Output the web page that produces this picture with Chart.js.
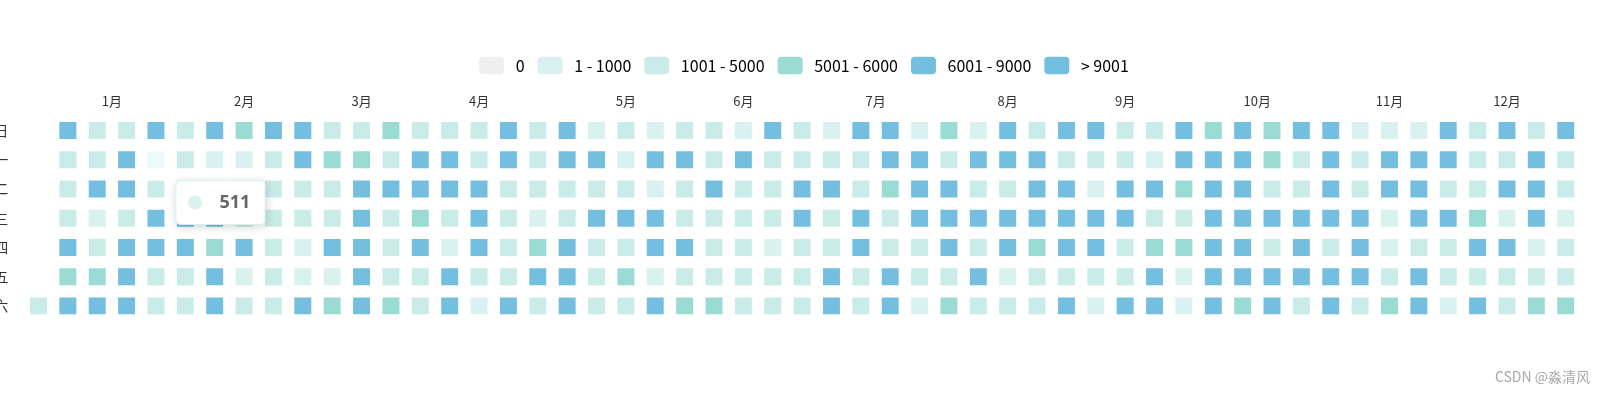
<!DOCTYPE html>
<html lang="zh-CN">
<head>
<meta charset="UTF-8">
<title>2022 日历热力图</title>
<script src="https://cdn.jsdelivr.net/npm/chart.js@4.4.1/dist/chart.umd.min.js"></script>
<style>
    html, body { margin: 0; padding: 0; background: #fff; overflow: hidden; }
    #wrap { position: relative; width: 1608px; height: 393px; }
    #watermark {
        position: absolute;
        right: 18px;
        bottom: 7px;
        font: 14px 'Noto Sans CJK SC', 'Noto Sans', sans-serif;
        line-height: 20px;
        color: #a8a8a8;
    }
</style>
</head>
<body>
<div id="wrap">
    <canvas id="heatmap" width="1608" height="393"></canvas>
    <div id="watermark">CSDN @淼清风</div>
</div>
<script>
// Calendar year shown (1 Jan 2022 is a Saturday, weeks start on Sunday)
const YEAR = 2022;

const weekdayLabels = ['日', '一', '二', '三', '四', '五', '六'];
const monthLabels = ['1月', '2月', '3月', '4月', '5月', '6月', '7月', '8月', '9月', '10月', '11月', '12月'];

// visualMap pieces
const pieceLabels = ['0', '1 - 1000', '1001 - 5000', '5001 - 6000', '6001 - 9000', '> 9001'];
const pieceMin = [0, 1, 1001, 5001, 6001, 9001];
const pieceMax = [0, 1000, 5000, 6000, 9000, Infinity];

// One value per week column (53 columns), one array per weekday row
const sunValues = [null, 7420, 3150, 2860, 8130, 4210, 6890, 5430, 7710, 9260, 2380, 3940, 5720, 1870, 4430, 2690, 8550, 3320, 7040, 640, 4120, 880, 2570, 3610, 420, 8810, 1940, 760, 6620, 9480, 310, 5260, 570, 7350, 2210, 8960, 6480, 3770, 1560, 7890, 5610, 9120, 5380, 6770, 8240, 930, 450, 690, 7560, 2940, 9350, 1730, 6940];
const monValues = [null, 2740, 3580, 8420, 511, 1690, 820, 360, 4370, 7180, 5540, 5170, 2460, 9630, 6350, 3890, 7920, 1280, 8670, 6910, 740, 9040, 7460, 2130, 8180, 4650, 2990, 1420, 3360, 7630, 9210, 2050, 6560, 8390, 7270, 4080, 2820, 1350, 590, 8740, 6230, 9570, 5830, 3460, 7840, 2610, 6410, 8930, 7090, 1810, 4520, 9380, 3040];
const tueValues = [null, 3270, 6780, 8350, 2190, 3840, 670, 2520, 4160, 1760, 3490, 7540, 9170, 6830, 8460, 7320, 2370, 4710, 1530, 3060, 2280, 860, 3920, 8020, 1640, 4290, 7680, 9410, 2750, 5360, 6590, 8870, 3180, 1990, 7250, 9690, 480, 8110, 6960, 5490, 7770, 9030, 2420, 3710, 6280, 1460, 8560, 7390, 4430, 2080, 9290, 6670, 3550];
const wedValues = [null, 1920, 710, 3630, 8270, 6840, 7490, 2680, 4020, 1380, 3250, 9140, 2860, 5650, 4490, 7060, 1710, 930, 3820, 8640, 6370, 9520, 2310, 4570, 1590, 3140, 7810, 2470, 8990, 3960, 6720, 7590, 9360, 8050, 6410, 7940, 8720, 6150, 2790, 4260, 7370, 9600, 6890, 8310, 7150, 9820, 380, 6530, 8480, 5270, 820, 7700, 550];
const thuValues = [null, 6970, 2590, 8810, 7230, 9350, 5590, 6460, 3370, 620, 8150, 7520, 1840, 9010, 790, 6690, 4340, 5120, 8380, 2940, 1660, 7890, 9230, 3530, 2210, 470, 4180, 1370, 8560, 3010, 2650, 7140, 4720, 9470, 5810, 6320, 8040, 1980, 5460, 5690, 7610, 9180, 3420, 6750, 2360, 8620, 560, 4090, 1520, 7280, 9740, 330, 2870];
const friValues = [null, 5380, 5750, 7960, 3190, 2040, 8720, 880, 4410, 290, 650, 6810, 3580, 1490, 9090, 2730, 4260, 7420, 6170, 3830, 5240, 710, 1960, 4600, 2520, 3370, 1750, 8280, 2990, 7560, 4130, 1620, 9280, 440, 3690, 2150, 4820, 1330, 6940, 860, 8490, 7020, 9560, 6380, 8830, 7410, 3260, 9140, 2480, 4050, 1870, 3520, 2690];
const satValues = [3420, 8060, 6730, 9420, 2830, 4370, 7180, 1620, 3750, 8590, 5480, 6920, 5330, 2270, 9160, 530, 7640, 4080, 8330, 1790, 3460, 6550, 5610, 5090, 2940, 4510, 1280, 7870, 3630, 9310, 760, 5520, 2360, 4170, 1690, 8740, 410, 7230, 9650, 680, 6480, 5780, 8910, 3090, 7370, 2560, 5160, 9020, 920, 6610, 4240, 5430, 5870];

// Cell under the mouse in the screenshot (week column, weekday row)
const hoverCell = { week: 4, weekday: 1 };

// Palette
const pieceColors = ['#efeff0', '#d9f2ef', '#c9ece8', '#9adcd4', '#74bfdf', '#74bfdf'];
const hoverColors = ['#f7f7f7', '#e9fbfb', '#e0f6f4', '#c0ebe6', '#a3d6ec', '#a3d6ec'];

/**
 * Find which visualMap piece a value falls in
 * @param {number} value - The daily value
 * @returns {number} Index into pieceLabels
 */
function pieceIndex(value) {
    return pieceMin.findIndex((min, i) => value >= min && value <= pieceMax[i]);
}

/**
 * Position (in week columns) of each month label, centred on the month's weeks
 * @returns {Array} Week positions for monthLabels
 */
function monthTickWeeks() {
    const start = new Date(YEAR, 0, 1);
    const offset = start.getDay();
    const dayOfYear = d => Math.round((d - start) / 86400000);
    return monthLabels.map((_, m) => {
        const first = Math.floor((dayOfYear(new Date(YEAR, m, 1)) + offset) / 7);
        const last = Math.floor((dayOfYear(new Date(YEAR, m + 1, 0)) + offset) / 7);
        return (first + last) / 2;
    });
}

/**
 * Split the calendar cells into one scatter dataset per piece
 * @returns {Array} Chart.js datasets
 */
function buildDatasets() {
    const rows = [sunValues, monValues, tueValues, wedValues, thuValues, friValues, satValues];
    const datasets = pieceLabels.map((label, i) => ({
        label: label,
        data: [],
        backgroundColor: pieceColors[i],
        hoverBackgroundColor: hoverColors[i],
        borderWidth: 0,
        hoverBorderWidth: 0
    }));

    rows.forEach((row, weekday) => {
        row.forEach((value, week) => {
            if (value === null) return;
            datasets[pieceIndex(value)].data.push({ x: week, y: weekday, v: value });
        });
    });
    return datasets;
}

// Soft shadow behind the tooltip box, like the original
const tooltipShadow = {
    id: 'tooltipShadow',
    beforeTooltipDraw(chart, args) {
        const tip = args.tooltip;
        if (!tip.opacity) return;
        const ctx = chart.ctx;
        ctx.save();
        ctx.shadowColor = 'rgba(0, 0, 0, 0.2)';
        ctx.shadowBlur = 10;
        ctx.shadowOffsetX = 1;
        ctx.shadowOffsetY = 2;
        ctx.fillStyle = '#fff';
        ctx.beginPath();
        if (ctx.roundRect) {
            ctx.roundRect(tip.x, tip.y, tip.width, tip.height, 4);
        } else {
            ctx.rect(tip.x, tip.y, tip.width, tip.height);
        }
        ctx.fill();
        ctx.restore();
    }
};

// Centre the legend on the whole canvas (not just the area left of the right padding)
const legendFullWidth = {
    id: 'legendFullWidth',
    afterLayout(chart) {
        if (!chart.legend) return;
        chart.legend.left = 0;
        chart.legend.right = chart.width;
    }
};

/**
 * Draw the calendar heatmap
 */
function initChart() {
    Chart.defaults.font.family = "'Noto Sans CJK SC', 'Noto Sans', sans-serif";
    Chart.defaults.font.size = 13;
    Chart.defaults.color = '#333';

    // tooltip sits below-right of the hovered cell
    Chart.Tooltip.positioners.besideCell = function(elements) {
        if (!elements.length) return false;
        const el = elements[0].element;
        return { x: el.x + 24, y: el.y + 21 };
    };

    const tickWeeks = monthTickWeeks();
    const datasets = buildDatasets();
    const ctx = document.getElementById('heatmap').getContext('2d');

    const chart = new Chart(ctx, {
        type: 'scatter',
        data: { datasets: datasets },
        options: {
            responsive: false,
            animation: false,
            events: [],
            layout: {
                padding: { top: 43.7, right: 27.6, bottom: 72.5, left: 0 }
            },
            elements: {
                point: {
                    pointStyle: 'rect',
                    radius: 12,
                    hoverRadius: 12
                }
            },
            scales: {
                x: {
                    type: 'linear',
                    position: 'top',
                    min: -0.5,
                    max: 52.5,
                    grid: { display: false, drawTicks: false },
                    border: { display: false },
                    afterBuildTicks: scale => {
                        scale.ticks = tickWeeks.map(v => ({ value: v }));
                    },
                    afterFit: scale => {
                        scale.height = 31.7;
                    },
                    ticks: {
                        autoSkip: false,
                        maxRotation: 0,
                        padding: 7,
                        color: '#333',
                        font: { size: 13 },
                        callback: value => monthLabels[tickWeeks.indexOf(value)]
                    }
                },
                y: {
                    type: 'linear',
                    reverse: true,
                    min: -0.5,
                    max: 6.5,
                    grid: { display: false, drawTicks: false },
                    border: { display: false },
                    afterBuildTicks: scale => {
                        scale.ticks = weekdayLabels.map((_, i) => ({ value: i }));
                    },
                    afterFit: scale => {
                        scale.width = 23.8;
                    },
                    ticks: {
                        padding: 15.5,
                        color: '#333',
                        font: { size: 14 },
                        callback: value => weekdayLabels[value]
                    }
                }
            },
            plugins: {
                legend: {
                    position: 'top',
                    align: 'center',
                    labels: {
                        boxWidth: 25,
                        boxHeight: 17.5,
                        padding: 13,
                        color: '#333',
                        font: { size: 16 },
                        useBorderRadius: true,
                        borderRadius: 4,
                        generateLabels: c => c.data.datasets.map((ds, i) => ({
                            text: ' ' + ds.label,
                            fillStyle: ds.backgroundColor,
                            strokeStyle: ds.backgroundColor,
                            lineWidth: 0,
                            borderRadius: 4,
                            hidden: false,
                            datasetIndex: i
                        }))
                    }
                },
                tooltip: {
                    position: 'besideCell',
                    xAlign: 'left',
                    yAlign: 'top',
                    caretSize: 0,
                    caretPadding: 0,
                    backgroundColor: '#fff',
                    borderColor: pieceColors[1],
                    borderWidth: 1,
                    cornerRadius: 4,
                    padding: { top: 11, bottom: 11, left: 12.5, right: 14.7 },
                    displayColors: true,
                    usePointStyle: true,
                    boxWidth: 13,
                    boxHeight: 13,
                    boxPadding: 16,
                    multiKeyBackground: '#fff',
                    bodyColor: '#666',
                    bodyFont: { size: 18, weight: 'bold', family: "'Noto Sans', sans-serif" },
                    callbacks: {
                        title: () => [],
                        label: item => String(item.raw.v),
                        labelColor: item => ({
                            borderColor: item.dataset.backgroundColor,
                            backgroundColor: item.dataset.backgroundColor
                        }),
                        labelPointStyle: () => ({ pointStyle: 'circle', rotation: 0 })
                    }
                }
            }
        },
        plugins: [tooltipShadow, legendFullWidth]
    });

    // Show the hovered cell + tooltip as in the screenshot
    let active = null;
    chart.data.datasets.forEach((ds, datasetIndex) => {
        ds.data.forEach((p, index) => {
            if (p.x === hoverCell.week && p.y === hoverCell.weekday) {
                active = { datasetIndex, index };
            }
        });
    });
    if (active) {
        const el = chart.getDatasetMeta(active.datasetIndex).data[active.index];
        chart.setActiveElements([active]);
        chart.tooltip.setActiveElements([active], { x: el.x, y: el.y });
        chart.update();
    }
}

document.addEventListener('DOMContentLoaded', initChart);
</script>
</body>
</html>
